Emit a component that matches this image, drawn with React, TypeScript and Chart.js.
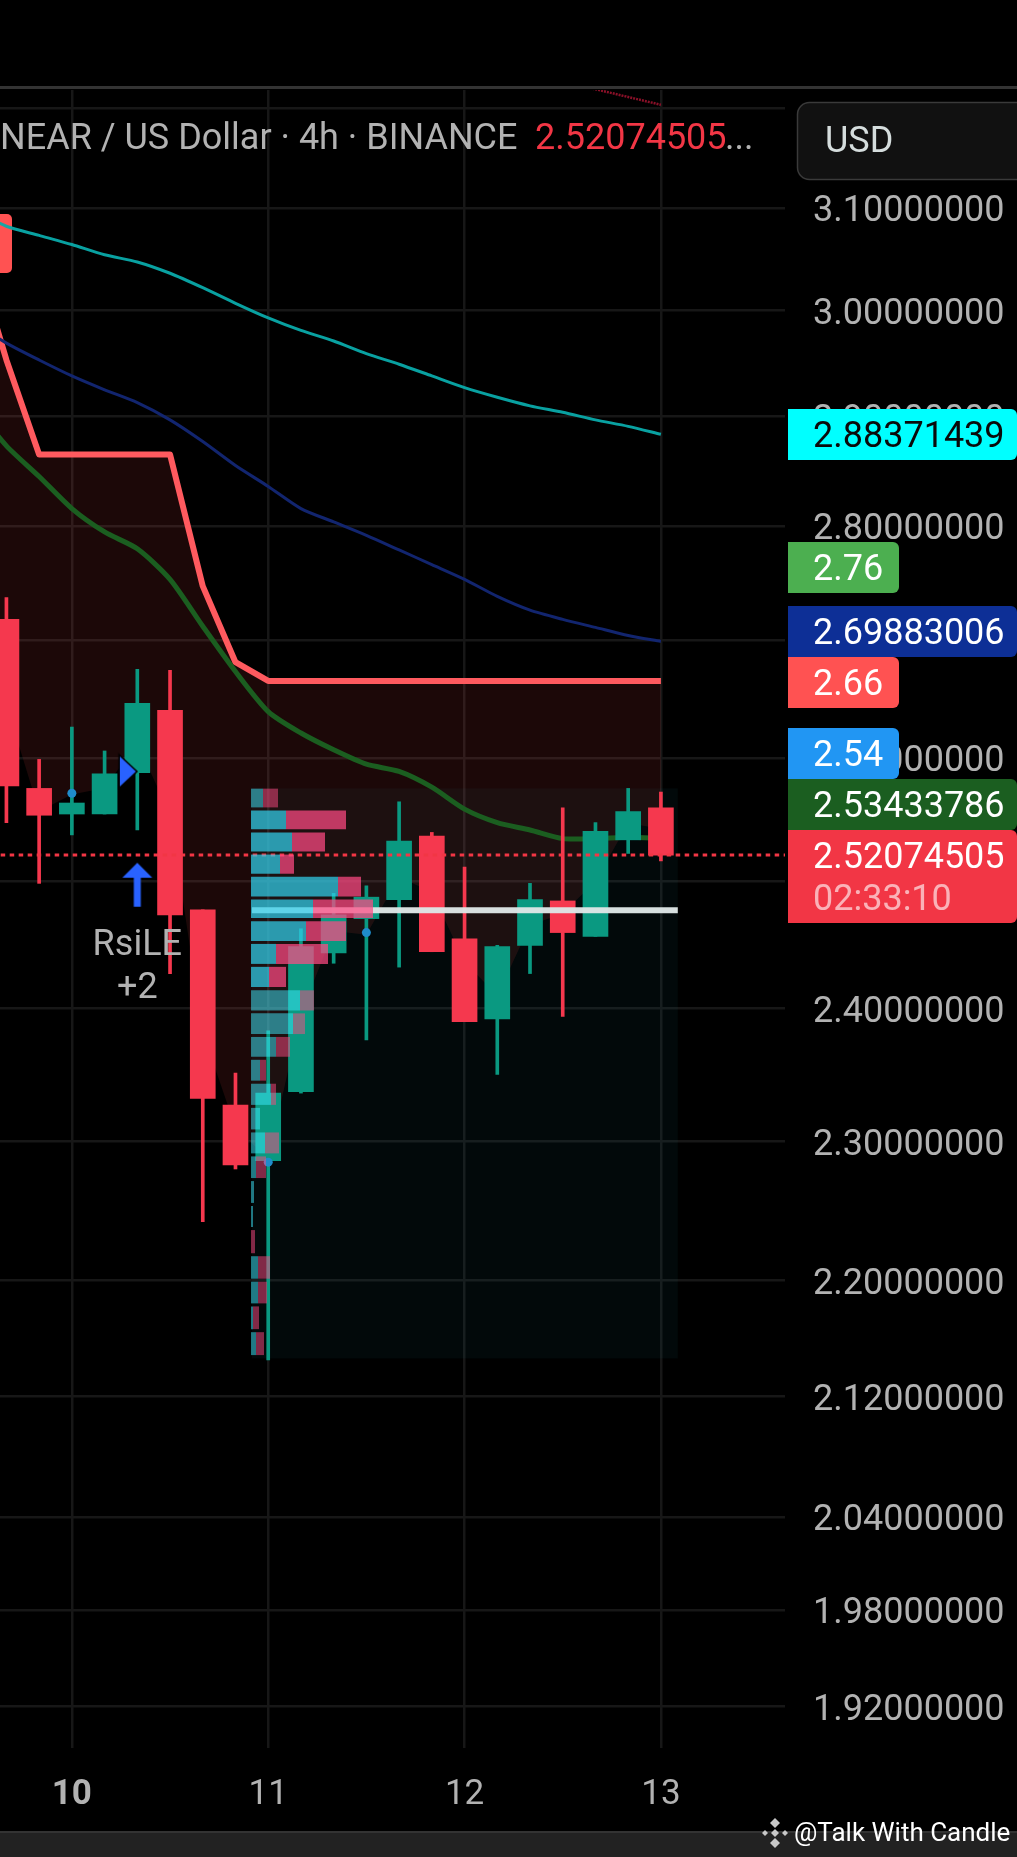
import React, { useEffect, useRef } from "react";
import { Chart, registerables } from "chart.js";

Chart.register(...registerables);

// ---------- candles (4h bars, x in days of the month) ----------
const candleDays = [9.5, 9.6667, 9.8333, 10, 10.1667, 10.3333, 10.5, 10.6667, 10.8333, 11, 11.1667, 11.3333, 11.5, 11.6667, 11.8333, 12, 12.1667, 12.3333, 12.5, 12.6667, 12.8333, 13];
const opens = [2.68, 2.718, 2.575, 2.554, 2.554, 2.588, 2.64, 2.477, 2.327, 2.286, 2.337, 2.443, 2.47, 2.485, 2.536, 2.454, 2.392, 2.449, 2.484, 2.456, 2.533, 2.559];
const highs = [2.72, 2.737, 2.599, 2.626, 2.606, 2.675, 2.674, 2.477, 2.351, 2.383, 2.462, 2.49, 2.496, 2.564, 2.539, 2.511, 2.449, 2.498, 2.559, 2.547, 2.575, 2.572];
const lows = [2.56, 2.547, 2.498, 2.537, 2.554, 2.541, 2.427, 2.242, 2.28, 2.145, 2.336, 2.435, 2.376, 2.432, 2.444, 2.39, 2.35, 2.427, 2.394, 2.456, 2.522, 2.516];
const closes = [2.6, 2.577, 2.553, 2.563, 2.587, 2.646, 2.473, 2.332, 2.283, 2.336, 2.448, 2.473, 2.487, 2.532, 2.444, 2.39, 2.448, 2.485, 2.459, 2.54, 2.556, 2.5207];

// ---------- indicator lines ----------
const tealMa = [3.098, 3.082, 3.073, 3.064, 3.054, 3.047, 3.036, 3.022, 3.007, 2.993, 2.981, 2.971, 2.959, 2.949, 2.938, 2.927, 2.918, 2.91, 2.904, 2.897, 2.891, 2.88371];
const navyMa = [2.988, 2.969, 2.953, 2.938, 2.925, 2.913, 2.897, 2.877, 2.855, 2.836, 2.816, 2.804, 2.792, 2.779, 2.766, 2.753, 2.738, 2.726, 2.718, 2.711, 2.704, 2.69883];
const greenMa = [2.91, 2.873, 2.845, 2.816, 2.795, 2.78, 2.753, 2.712, 2.673, 2.639, 2.621, 2.607, 2.595, 2.589, 2.576, 2.558, 2.547, 2.541, 2.534, 2.534, 2.535, 2.53434];
const superTrend = [3.059, 2.953, 2.865, 2.865, 2.865, 2.865, 2.865, 2.747, 2.681, 2.665, 2.665, 2.665, 2.665, 2.665, 2.665, 2.665, 2.665, 2.665, 2.665, 2.665, 2.665, 2.665];
const darkRedDays = [12.5, 12.6667, 12.8333, 13];
const darkRedLine = [3.226, 3.22, 3.212, 3.204];

const lastPrice = 2.52074505;
const lastPriceSpan = [9.5, 13.7];

// ---------- volume profile ----------
const rowTops = [2.5748, 2.5569, 2.539, 2.5211, 2.5033, 2.4852, 2.468, 2.4501, 2.4322, 2.414, 2.3963, 2.3783, 2.361, 2.343, 2.325, 2.3068, 2.2892, 2.2712, 2.2532, 2.2359, 2.2173, 2.1993, 2.182, 2.1641];
const rowBottoms = [2.5594, 2.5415, 2.5236, 2.5057, 2.4875, 2.4704, 2.4524, 2.4345, 2.4166, 2.3985, 2.3805, 2.3633, 2.3453, 2.3272, 2.309, 2.2914, 2.2734, 2.2554, 2.2381, 2.2194, 2.2014, 2.1841, 2.1662, 2.1483];
const rowUpVolume = [12, 35, 41, 29, 87, 62, 55, 25, 18, 49, 42, 25, 9, 20, 9, 14, 5, 3, 2, 0, 7, 7, 2, 5];
const rowDownVolume = [15, 60, 33, 14, 23, 60, 40, 52, 17, 14, 12, 14, 6, 5, 0, 14, 10, 0, 0, 4, 12, 9, 6, 8];
const rowInValueArea = [false, true, true, true, true, true, true, true, true, false, false, false, false, false, false, false, false, false, false, false, false, false, false, false];
const profileDays = [10.917, 13.086];
const profilePrices = [2.575, 2.146];
const pocPrice = 2.4766;

// ---------- signals ----------
const dotDays = [10, 11, 11.5];
const dotPrices = [2.571, 2.285, 2.459];
const triangleDay = [10.285];
const trianglePrice = [2.589];
const arrowDay = [10.3333];
const arrowPrice = [2.4969];
const signalText = ["RsiLE", "+2"];

// ---------- axes and labels ----------
const priceTicks = [3.2, 3.1, 3.0, 2.9, 2.8, 2.7, 2.6, 2.5, 2.4, 2.3, 2.2, 2.12, 2.04, 1.98, 1.92];
const dayTicks = [10, 11, 12, 13];
const titleText = "NEAR / US Dollar \u00b7 4h \u00b7 BINANCE";
const titlePrice = "2.52074505";
const currencyText = "USD";
const countdownText = "02:33:10";
const watermarkText = "@Talk With Candle";
const badgeTexts = ["2.88371439", "2.76", "2.69883006", "2.66", "2.54", "2.53433786", "2.52074505"];

const FONT = "Roboto";
const RED = "#F5384E";
const GREEN = "#0A9981";
const LABEL = "#B2B2B2";
const GRID = "#171717";

const badgeStyles = [
  { bg: "#00FFFF", fg: "#0A0A0A", top: 409, bottom: 460, right: 1017 },
  { bg: "#4CAF50", fg: "#FFFFFF", top: 542, bottom: 593, right: 899 },
  { bg: "#0D2F96", fg: "#FFFFFF", top: 606, bottom: 657, right: 1017 },
  { bg: "#FF5252", fg: "#FFFFFF", top: 657, bottom: 708, right: 899 },
  { bg: "#2196F3", fg: "#FFFFFF", top: 728, bottom: 779, right: 899 },
  { bg: "#1B5E20", fg: "#FFFFFF", top: 779, bottom: 830, right: 1017 },
  { bg: "#F23645", fg: "#FFFFFF", top: 830, bottom: 923, right: 1017 },
];

function makeArrow(): HTMLCanvasElement {
  const c = document.createElement("canvas");
  c.width = 36;
  c.height = 50;
  const g = c.getContext("2d")!;
  g.fillStyle = "#2962FF";
  g.beginPath();
  g.moveTo(18, 3);
  g.lineTo(33, 18);
  g.lineTo(21.5, 18);
  g.lineTo(21.5, 47);
  g.lineTo(14.5, 47);
  g.lineTo(14.5, 18);
  g.lineTo(3, 18);
  g.closePath();
  g.fill();
  return c;
}

function makeTriangle(): HTMLCanvasElement {
  const c = document.createElement("canvas");
  c.width = 24;
  c.height = 38;
  const g = c.getContext("2d")!;
  g.beginPath();
  g.moveTo(4, 4);
  g.lineTo(20, 19);
  g.lineTo(4, 34);
  g.closePath();
  g.fillStyle = "#2962FF";
  g.strokeStyle = "#000";
  g.lineWidth = 3;
  g.stroke();
  g.fill();
  return c;
}

function roundRect(ctx: CanvasRenderingContext2D, x: number, y: number, w: number, h: number, r: any) {
  ctx.beginPath();
  ctx.roundRect(x, y, w, h, r);
}

const paintBackdrop = {
  id: "paintBackdrop",
  beforeDatasetsDraw(chart: any) {
    const { ctx, scales } = chart;
    const x = scales.x;
    const y = scales.y;
    ctx.save();
    // value-area box of the volume profile
    ctx.fillStyle = "rgba(40,150,170,0.06)";
    const l = x.getPixelForValue(profileDays[0]);
    const r = x.getPixelForValue(profileDays[1]);
    const t = y.getPixelForValue(profilePrices[0]);
    const b = y.getPixelForValue(profilePrices[1]);
    ctx.fillRect(l, t, r - l, b - t);
    // stop-label stub at the left edge
    ctx.fillStyle = "#FF5252";
    roundRect(ctx, -8, 214, 20, 59, 5);
    ctx.fill();
    ctx.restore();
  },
};

const paintOverlay = {
  id: "paintOverlay",
  afterDraw(chart: any) {
    const { ctx, scales } = chart;
    ctx.save();
    ctx.textBaseline = "middle";
    ctx.font = `36px ${FONT}`;

    // frame lines
    ctx.fillStyle = "#333333";
    ctx.fillRect(0, 86, 1017, 3);
    ctx.fillStyle = "#222222";
    ctx.fillRect(0, 1832, 1017, 25);
    ctx.fillStyle = "#333333";
    ctx.fillRect(0, 1831, 1017, 2);

    // title
    ctx.textAlign = "left";
    ctx.fillStyle = LABEL;
    ctx.fillText(titleText, 0, 140);
    ctx.fillStyle = "#F23645";
    ctx.fillText(titlePrice, 535, 140);
    ctx.fillStyle = LABEL;
    ctx.fillText("...", 725, 140);

    // signal caption
    ctx.textAlign = "center";
    const sx = scales.x.getPixelForValue(arrowDay[0]);
    ctx.fillStyle = LABEL;
    ctx.fillText(signalText[0], sx, 946);
    ctx.fillText(signalText[1], sx, 989);

    // currency button
    roundRect(ctx, 797.5, 102.5, 240, 77, 12);
    ctx.fillStyle = "#111111";
    ctx.fill();
    ctx.strokeStyle = "#3A3A3A";
    ctx.lineWidth = 1.5;
    ctx.stroke();
    ctx.textAlign = "left";
    ctx.fillStyle = "#D5DDDD";
    ctx.fillText(currencyText, 825, 143);

    // price badges
    badgeTexts.forEach((text, i) => {
      const s = badgeStyles[i];
      ctx.fillStyle = s.bg;
      roundRect(ctx, 788, s.top, s.right - 788, s.bottom - s.top, [0, 6, 6, 0]);
      ctx.fill();
      ctx.fillStyle = s.fg;
      const two = i === badgeTexts.length - 1;
      ctx.fillText(text, 813, two ? s.top + 29 : (s.top + s.bottom) / 2 + 3);
      if (two) {
        ctx.fillStyle = "rgba(255,255,255,0.62)";
        ctx.fillText(countdownText, 813, s.top + 71);
      }
    });

    // watermark
    ctx.fillStyle = "#C8C8C8";
    const cx = 775;
    const cy = 1833;
    const diamond = (px: number, py: number, d: number) => {
      ctx.beginPath();
      ctx.moveTo(px, py - d);
      ctx.lineTo(px + d, py);
      ctx.lineTo(px, py + d);
      ctx.lineTo(px - d, py);
      ctx.closePath();
      ctx.fill();
    };
    diamond(cx, cy, 4);
    diamond(cx - 10, cy, 3);
    diamond(cx + 10, cy, 3);
    diamond(cx, cy - 10, 5);
    diamond(cx, cy + 10, 5);
    ctx.font = `26px ${FONT}`;
    ctx.fillStyle = "#FFFFFF";
    ctx.textAlign = "left";
    ctx.fillText(watermarkText, 794, 1834);
    ctx.restore();
  },
};

export default function App() {
  const ref = useRef<HTMLCanvasElement | null>(null);

  useEffect(() => {
    document.body.style.margin = "0";
    document.body.style.background = "#000";
    const canvas = ref.current!;

    const ohlc4 = candleDays.map((_, i) => (opens[i] + highs[i] + lows[i] + closes[i]) / 4);
    const colors = candleDays.map((_, i) => (closes[i] >= opens[i] ? GREEN : RED));
    const series = (values: number[], days: number[] = candleDays) => values.map((v, i) => ({ x: days[i], y: v }));

    const lineBase = { type: "line", pointRadius: 0, pointHoverRadius: 0, fill: false };

    const rowWidth = (i: number) => (ctx: any) => {
      const y = ctx.chart.scales.y;
      return y.getPixelForValue(rowBottoms[i]) - y.getPixelForValue(rowTops[i]);
    };

    const rowDatasets: any[] = [];
    rowTops.forEach((top, i) => {
      const mid = Math.sqrt(top * rowBottoms[i]);
      const alpha = rowInValueArea[i] ? 0.72 : 0.5;
      const up = rowUpVolume[i];
      const down = rowDownVolume[i];
      if (up > 0) {
        rowDatasets.push({
          ...lineBase,
          xAxisID: "xVol",
          order: 20,
          borderWidth: rowWidth(i),
          borderColor: rowInValueArea[i] ? `rgba(48,208,236,${alpha})` : `rgba(62,236,255,${alpha})`,
          data: [{ x: 0, y: mid }, { x: up, y: mid }],
        });
      }
      if (down > 0) {
        rowDatasets.push({
          ...lineBase,
          xAxisID: "xVol",
          order: 20,
          borderWidth: rowWidth(i),
          borderColor: `rgba(255,74,132,${alpha})`,
          data: [{ x: up, y: mid }, { x: up + down, y: mid }],
        });
      }
    });

    const chart = new Chart(canvas, {
      type: "bar",
      plugins: [paintBackdrop, paintOverlay],
      data: {
        datasets: [
          // 0: candle mid line, the lower edge of the stop fill
          { ...lineBase, order: 100, borderWidth: 0, borderColor: "transparent", data: series(ohlc4) },
          // 1: stop line with the fill down to dataset 0
          {
            ...lineBase,
            order: 60,
            borderColor: "#FF5A5F",
            borderWidth: 6,
            borderJoinStyle: "round",
            data: series(superTrend),
            fill: { target: 0, above: "rgba(255,70,70,0.11)", below: "rgba(255,70,70,0.11)" },
          },
          { ...lineBase, order: 50, borderColor: "rgba(10,170,170,0.95)", borderWidth: 3, tension: 0.25, data: series(tealMa) },
          { ...lineBase, order: 50, borderColor: "#12256F", borderWidth: 3, tension: 0.25, data: series(navyMa) },
          { ...lineBase, order: 50, borderColor: "#1B5E20", borderWidth: 5, tension: 0.25, data: series(greenMa) },
          { ...lineBase, order: 50, borderColor: "#8A1028", borderWidth: 2.5, borderDash: [2, 1], data: series(darkRedLine, darkRedDays) },
          // wicks and bodies
          {
            type: "bar",
            order: 30,
            grouped: false,
            barThickness: 3,
            backgroundColor: colors,
            data: candleDays.map((d, i) => ({ x: d, y: [lows[i], highs[i]] })),
          },
          {
            type: "bar",
            order: 29,
            grouped: false,
            barThickness: 25,
            backgroundColor: colors,
            data: candleDays.map((d, i) => ({ x: d, y: [Math.min(opens[i], closes[i]), Math.max(opens[i], closes[i])] })),
          },
          // last price
          {
            ...lineBase,
            order: 28,
            borderColor: "#F23645",
            borderWidth: 3,
            borderDash: [4.5, 4.5],
            data: lastPriceSpan.map((d) => ({ x: d, y: lastPrice })),
          },
          // signals
          {
            type: "line",
            order: 27,
            showLine: false,
            pointRadius: 4.5,
            pointBackgroundColor: "#1F8CCB",
            pointBorderWidth: 0,
            data: series(dotPrices, dotDays),
          },
          { type: "line", order: 27, showLine: false, pointStyle: makeTriangle(), data: series(trianglePrice, triangleDay) },
          { type: "line", order: 27, showLine: false, pointStyle: makeArrow(), data: series(arrowPrice, arrowDay) },
          // point of control
          {
            ...lineBase,
            order: 26,
            borderColor: "rgba(222,230,230,0.97)",
            borderWidth: 6,
            data: profileDays.map((d) => ({ x: d, y: pocPrice })),
          },
          ...rowDatasets,
        ] as any,
      },
      options: {
        responsive: false,
        animation: false,
        devicePixelRatio: 1,
        events: [],
        layout: { autoPadding: false, padding: { top: 90, left: 0, right: 0, bottom: 0 } },
        plugins: { legend: { display: false }, tooltip: { enabled: false }, title: { display: false } },
        scales: {
          x: {
            type: "linear",
            position: "bottom",
            offset: false,
            min: 9.634,
            max: 13.632,
            border: { display: false },
            grid: { offset: false, color: GRID, lineWidth: 2.5, drawTicks: false },
            afterBuildTicks: (s: any) => {
              s.ticks = dayTicks.map((v) => ({ value: v }));
            },
            afterFit: (s: any) => {
              s.height = 109;
            },
            ticks: {
              autoSkip: false,
              maxRotation: 0,
              padding: 26,
              color: LABEL,
              callback: (v: any) => String(v),
              font: (ctx: any) => ({ family: FONT, size: 35, weight: ctx.tick && ctx.tick.value === 10 ? "bold" : "normal" }),
            },
          },
          xVol: {
            type: "linear",
            display: false,
            offset: false,
            grid: { offset: false },
            min: -251,
            max: 534,
          },
          y: {
            type: "logarithmic",
            position: "right",
            min: 1.8947,
            max: 3.2192,
            border: { display: false },
            grid: { color: GRID, lineWidth: 2.5, drawTicks: false },
            afterBuildTicks: (s: any) => {
              s.ticks = priceTicks.map((v) => ({ value: v }));
            },
            afterFit: (s: any) => {
              s.width = 232;
            },
            ticks: {
              autoSkip: false,
              padding: 28,
              labelOffset: 4,
              color: LABEL,
              font: { family: FONT, size: 36 },
              callback: (v: any) => (v === priceTicks[0] ? "" : Number(v).toFixed(8)),
            },
          },
        },
      } as any,
    });
    return () => chart.destroy();
  }, []);

  return <canvas ref={ref} width={1017} height={1857} style={{ display: "block", width: 1017, height: 1857, background: "#000" }} />;
}
